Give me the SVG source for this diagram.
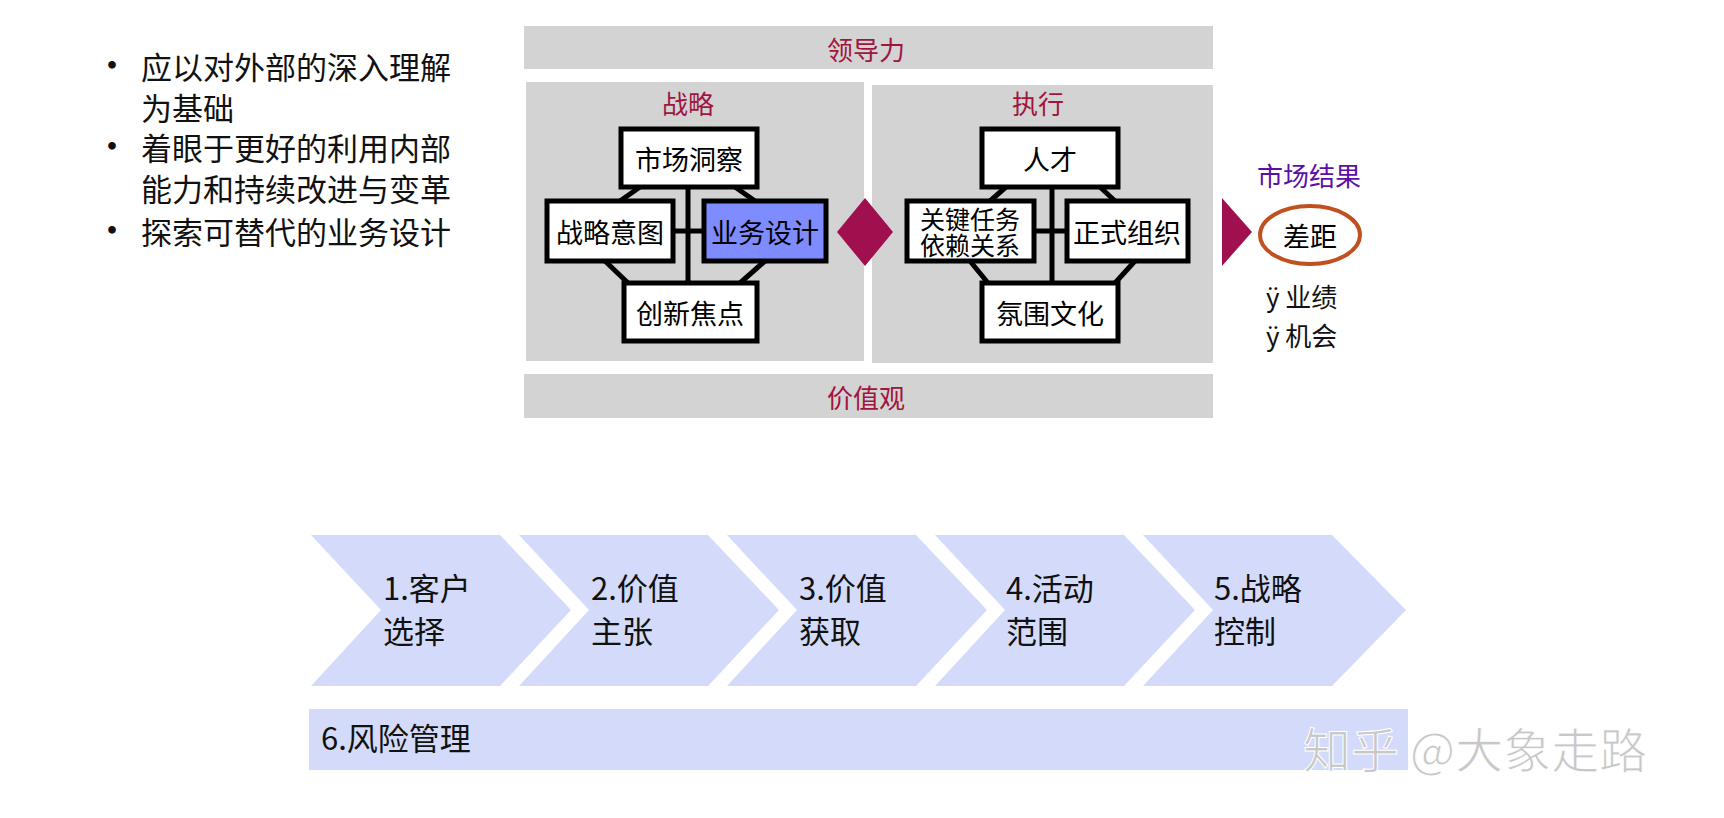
<svg xmlns="http://www.w3.org/2000/svg" width="1724" height="818" viewBox="0 0 1724 818">
<style>
text{font-family:"Noto Sans CJK SC","Noto Sans",sans-serif;}
.bl{font-size:31px;fill:#111}
.bar{fill:#d3d3d3}
.red{fill:#a0153e;font-size:26px;text-anchor:middle;dominant-baseline:central}
.bx{fill:#fff;stroke:#000;stroke-width:5}
.bt{font-size:27px;text-anchor:middle;dominant-baseline:central;fill:#000}
.ln{stroke:#000;stroke-width:5;fill:none}
.chev{fill:#d4dbfa}
.ct{font-size:31px;fill:#111}
</style>
<g id="bullets">
<text class="bl" x="94" y="79" style="font-size:36px">•</text><text class="bl" x="141" y="79">应以对外部的深入理解</text>
<text class="bl" x="141" y="120">为基础</text>
<text class="bl" x="94" y="160" style="font-size:36px">•</text><text class="bl" x="141" y="160">着眼于更好的利用内部</text>
<text class="bl" x="141" y="201">能力和持续改进与变革</text>
<text class="bl" x="94" y="244" style="font-size:36px">•</text><text class="bl" x="141" y="244">探索可替代的业务设计</text>
</g>
<g id="leadership"><rect class="bar" x="524" y="26" width="689" height="43"/><text class="red" x="866" y="48">领导力</text></g>
<g id="values"><rect class="bar" x="524" y="374" width="689" height="44"/><text class="red" x="866" y="396">价值观</text></g>
<g id="strategy-panel"><rect class="bar" x="526" y="82" width="338" height="279"/><text class="red" x="688" y="102">战略</text></g>
<g id="execution-panel"><rect class="bar" x="872" y="85" width="341" height="278"/><text class="red" x="1038" y="102">执行</text></g>
<g id="connectors">
<line class="ln" x1="688" y1="187" x2="688" y2="283"/>
<line class="ln" x1="673" y1="231" x2="704" y2="231"/>
<line class="ln" x1="640" y1="187" x2="620" y2="201"/>
<line class="ln" x1="735" y1="187" x2="755" y2="201"/>
<line class="ln" x1="605" y1="261" x2="628" y2="283"/>
<line class="ln" x1="765" y1="261" x2="740" y2="283"/>
<line class="ln" x1="1052" y1="187" x2="1052" y2="283"/>
<line class="ln" x1="1034" y1="231" x2="1067" y2="231"/>
<line class="ln" x1="1006" y1="187" x2="990" y2="201"/>
<line class="ln" x1="1100" y1="187" x2="1115" y2="201"/>
<line class="ln" x1="970" y1="261" x2="988" y2="283"/>
<line class="ln" x1="1135" y1="261" x2="1115" y2="283"/>
</g>
<g id="n-market"><rect class="bx" x="621" y="129" width="136" height="58"/><text class="bt" x="689" y="158">市场洞察</text></g>
<g id="n-intent"><rect class="bx" x="547" y="201" width="126" height="60"/><text class="bt" x="610" y="231">战略意图</text></g>
<g id="n-design"><rect class="bx" x="704" y="201" width="122" height="60" style="fill:#7f8cff"/><text class="bt" x="765" y="231">业务设计</text></g>
<g id="n-innov"><rect class="bx" x="624" y="283" width="133" height="58"/><text class="bt" x="690" y="312">创新焦点</text></g>
<g id="n-talent"><rect class="bx" x="982" y="129" width="136" height="58"/><text class="bt" x="1050" y="158">人才</text></g>
<g id="n-task"><rect class="bx" x="907" y="201" width="127" height="60"/><text class="bt" x="970" y="218" style="font-size:25px">关键任务</text><text class="bt" x="970" y="244" style="font-size:25px">依赖关系</text></g>
<g id="n-org"><rect class="bx" x="1067" y="201" width="121" height="60"/><text class="bt" x="1127" y="231">正式组织</text></g>
<g id="n-culture"><rect class="bx" x="982" y="283" width="136" height="58"/><text class="bt" x="1050" y="312">氛围文化</text></g>
<g id="diamond"><polygon points="865,198 893,232 865,266 837,232" fill="#a0104e"/></g>
<g id="arrow"><polygon points="1222,198 1252,232 1222,266" fill="#a0104e"/></g>
<g id="result">
<text x="1309" y="174" style="font-size:26px;fill:#5b0fa8;text-anchor:middle;dominant-baseline:central">市场结果</text>
<ellipse cx="1310" cy="235" rx="50" ry="29" fill="#fff" stroke="#c0501f" stroke-width="4"/>
<text class="bt" x="1310" y="235">差距</text>
<text x="1266" y="307" style="font-size:26px;fill:#111">ÿ 业绩</text>
<text x="1266" y="346" style="font-size:26px;fill:#111">ÿ 机会</text>
</g>
<g id="chevrons">
<polygon class="chev" points="311,535 500,535 571,610 500,686 311,686 381,610"/>
<polygon class="chev" points="519,535 708,535 779,610 708,686 519,686 589,610"/>
<polygon class="chev" points="727,535 916,535 987,610 916,686 727,686 797,610"/>
<polygon class="chev" points="935,535 1124,535 1195,610 1124,686 935,686 1005,610"/>
<polygon class="chev" points="1143,535 1332,535 1406,610 1332,686 1143,686 1213,610"/>
<text class="ct" x="383" y="600">1.客户</text><text class="ct" x="383" y="643">选择</text>
<text class="ct" x="591" y="600">2.价值</text><text class="ct" x="591" y="643">主张</text>
<text class="ct" x="799" y="600">3.价值</text><text class="ct" x="799" y="643">获取</text>
<text class="ct" x="1006" y="600">4.活动</text><text class="ct" x="1006" y="643">范围</text>
<text class="ct" x="1214" y="600">5.战略</text><text class="ct" x="1214" y="643">控制</text>
</g>
<g id="risk"><rect class="chev" x="309" y="709" width="1099" height="61"/><text class="ct" x="321" y="750">6.风险管理</text></g>
<text x="1303" y="768" style="font-size:48px;fill:#c8c8c8;stroke:#fff;stroke-width:1">知乎 @大象走路</text>
</svg>
